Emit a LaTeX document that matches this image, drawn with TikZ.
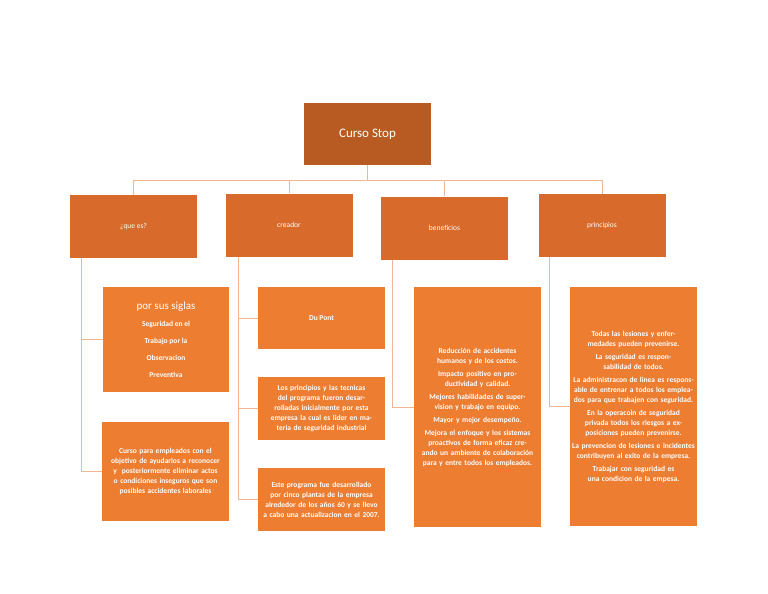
\documentclass[tikz,border=0pt]{standalone}
\usepackage{fontspec}
\setmainfont{Carlito}
\begin{document}
\begin{tikzpicture}[x=1pt,y=-1pt,
  rootbox/.style={fill=rootc,draw=none,minimum width=127pt,minimum height=62pt,inner sep=0pt},
  catbox/.style={fill=catc,draw=none,minimum width=127pt,minimum height=63pt,inner sep=0pt,font=\fontsize{7.5}{9}\selectfont,text=white},
  leaf/.style={fill=leafc,draw=none,inner sep=0pt,text=white,align=center,font=\bfseries\fontsize{7.5}{10}\selectfont},
  conn/.style={draw=linec,line width=0.8pt}]
\definecolor{rootc}{HTML}{B85B22}
\definecolor{catc}{HTML}{D86A2C}
\definecolor{leafc}{HTML}{ED7D31}
\definecolor{linec}{HTML}{F2B594}
\useasboundingbox (0,0) rectangle (768,594);
\node[rootbox,text=white,font=\fontsize{13}{15}\selectfont] (root) at (367.5,134) {Curso Stop};
\node[catbox] (c1) at (133.5,226.5) {¿que es?};
\node[catbox] (c2) at (289,225) {creador};
\node[catbox] (c3) at (444.5,228) {beneficios};
\node[catbox] (c4) at (602,225.5) {principios};
\coordinate (h) at (367.5,180);
\draw[conn] (root.south) -- (h);
\draw[conn] (c1.north |- h) -- (c4.north |- h);
\foreach \c in {c1,c2,c3,c4} \draw[conn] (\c.north |- h) -- (\c.north);
% leaves
\node[leaf,minimum width=126pt,minimum height=105pt] (s) at (166,339.5) {};
\node[text=white,align=center,inner sep=0pt,font=\bfseries\fontsize{7.5}{17}\selectfont] (st) at (s.center) {\mdseries\fontsize{11}{13}\selectfont por sus siglas\\[0pt]
Seguridad en el\\Trabajo por la\\Observacion\\Preventiva};
\node[leaf,minimum width=127pt,minimum height=99pt,text width=120pt] (cu) at (165.5,471.5) {Curso para empleados con el objetivo de ayudarlos a reconocer y \ posteriormente eliminar actos o condiciones inseguros que son posibles accidentes laborales};
\node[leaf,minimum width=127pt,minimum height=62pt] (dp) at (321.5,318) {Du Pont};
\node[leaf,minimum width=127pt,minimum height=63pt,text width=125pt] (lp) at (321.5,408.5) {Los principios y las tecnicas del programa fueron desarrolladas inicialmente por esta empresa la cual es lider en materia de seguridad industrial};
\node[leaf,minimum width=127pt,minimum height=63pt,text width=125pt] (ep) at (321.5,499.5) {Este programa fue desarrollado por cinco plantas de la empresa alrededor de los años 60 y se llevo a cabo una actualizacion en el 2007.};
\node[leaf,minimum width=127pt,minimum height=240pt,text width=125pt] (bl) at (477.5,407) {Reducción de accidentes humanos y de los costos.\\[3pt]
Impacto positivo en productividad y calidad.\\[3pt]
Mejores habilidades de supervision y trabajo en equipo.\\[3pt]
Mayor y mejor desempeño.\\[3pt]
Mejora el enfoque y los sistemas proactivos de forma eficaz creando un ambiente de colaboración para y entre todos los empleados.};
\node[leaf,minimum width=127pt,minimum height=239pt,text width=125pt] (pl) at (633.5,406.5) {Todas las lesiones y enfermedades pueden prevenirse.\\[3pt]
La seguridad es responsabilidad de todos.\\[3pt]
La administracon de linea es responsable de entrenar a todos los empleados para que trabajen con seguridad.\\[3pt]
En la operacoin de seguridad privada todos los riesgos a exposiciones pueden prevenirse.\\[3pt]
La prevencion de lesiones e incidentes contribuyen al exito de la empresa.\\[3pt]
Trabajar con seguridad es una condicion de la empesa.};
% side connectors
\coordinate (a1) at ([xshift=12pt]c1.south west);
\coordinate (a2) at ([xshift=13pt]c2.south west);
\coordinate (a3) at ([xshift=12pt]c3.south west);
\coordinate (a4) at ([xshift=11pt]c4.south west);
\draw[conn] (a1) -- (a1 |- cu.west) -- (cu.west);
\draw[conn] (a1 |- s.west) -- (s.west);
\draw[conn] (a2) -- (a2 |- ep.west) -- (ep.west);
\draw[conn] (a2 |- dp.west) -- (dp.west);
\draw[conn] (a2 |- lp.west) -- (lp.west);
\draw[conn] (a3) -- (a3 |- bl.west) -- (bl.west);
\draw[conn] (a4) -- (a4 |- pl.west) -- (pl.west);
\end{tikzpicture}
\end{document}
